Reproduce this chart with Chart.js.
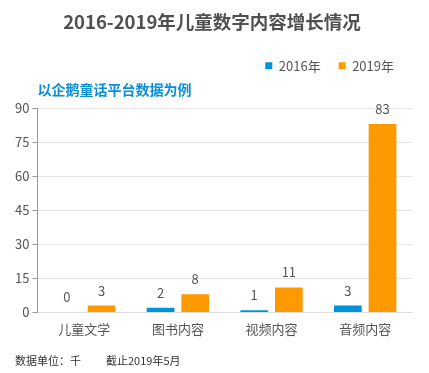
<!DOCTYPE html>
<html>
<head>
<meta charset="utf-8">
<script src="https://cdn.jsdelivr.net/npm/chart.js"></script>
<style>
  body { margin: 0; background: #fff; }
  #wrap { position: relative; width: 429px; height: 373px; }
  #note {
    position: absolute; left: 15px; top: 352px;
    font: 11px "Noto Sans CJK SC", sans-serif; color: #333;
  }
  #note span { margin-left: 25px; }
</style>
</head>
<body>
<div id="wrap">
  <canvas id="chart"></canvas>
  <div id="note">数据单位：千<span>截止2019年5月</span></div>
</div>
<script>
// data
var categories = ['儿童文学', '图书内容', '视频内容', '音频内容'];
var values2016 = [0, 2, 1, 3];
var values2019 = [3, 8, 11, 83];
var yTicks = [0, 15, 30, 45, 60, 75, 90];

Chart.defaults.font.family = "'Noto Sans CJK SC', sans-serif";

// numbers above the bars
var valueLabels = {
    id: 'valueLabels',
    afterDatasetsDraw: function(chart) {
        var ctx = chart.ctx;
        ctx.save();
        ctx.font = "13px 'Noto Sans CJK SC', sans-serif";
        ctx.fillStyle = '#555';
        ctx.textAlign = 'center';
        ctx.textBaseline = 'alphabetic';
        chart.data.datasets.forEach(function(ds, i) {
            chart.getDatasetMeta(i).data.forEach(function(bar, j) {
                ctx.fillText(ds.data[j], bar.x, bar.y - 10);
            });
        });
        ctx.restore();
    }
};

var chart = new Chart(document.getElementById('chart'), {
    type: 'bar',
    data: {
        labels: categories,
        datasets: [{
            label: '2016年',
            data: values2016,
            backgroundColor: '#0095da'
        }, {
            label: '2019年',
            data: values2019,
            backgroundColor: '#ff9900'
        }]
    },
    options: {
        responsive: true,
        maintainAspectRatio: false,
        animation: false,
        categoryPercentage: 0.74,
        barPercentage: 0.8,
        layout: { padding: { left: 12, right: 17, top: 0, bottom: 27 } },
        plugins: {
            title: {
                display: true,
                text: '2016-2019年儿童数字内容增长情况',
                color: '#505050',
                font: { size: 18.5, weight: 'bold' },
                padding: { top: 11, bottom: 8 }
            },
            legend: {
                align: 'end',
                labels: {
                    boxWidth: 7,
                    boxHeight: 7,
                    padding: 18,
                    color: '#555',
                    font: { size: 13 }
                }
            },
            subtitle: {
                display: true,
                text: '以企鹅童话平台数据为例',
                align: 'start',
                fullSize: false,
                weight: 500,
                color: '#0a8ed6',
                font: { size: 14, weight: 'bold', lineHeight: 1 },
                padding: { top: 0, bottom: 12 }
            },
            tooltip: { enabled: false }
        },
        scales: {
            x: {
                grid: { display: false, drawTicks: false },
                border: { color: '#dddddd' },
                ticks: { color: '#555', font: { size: 13 }, padding: 9 }
            },
            y: {
                min: 0,
                max: 90,
                afterBuildTicks: function(axis) {
                    axis.ticks = yTicks.map(function(v) { return { value: v }; });
                },
                grid: { color: '#e4e4e4', tickColor: '#999', tickLength: 5 },
                border: { color: '#999' },
                ticks: { color: '#555', font: { size: 13 }, padding: 3 }
            }
        }
    },
    plugins: [valueLabels]
});
</script>
</body>
</html>
